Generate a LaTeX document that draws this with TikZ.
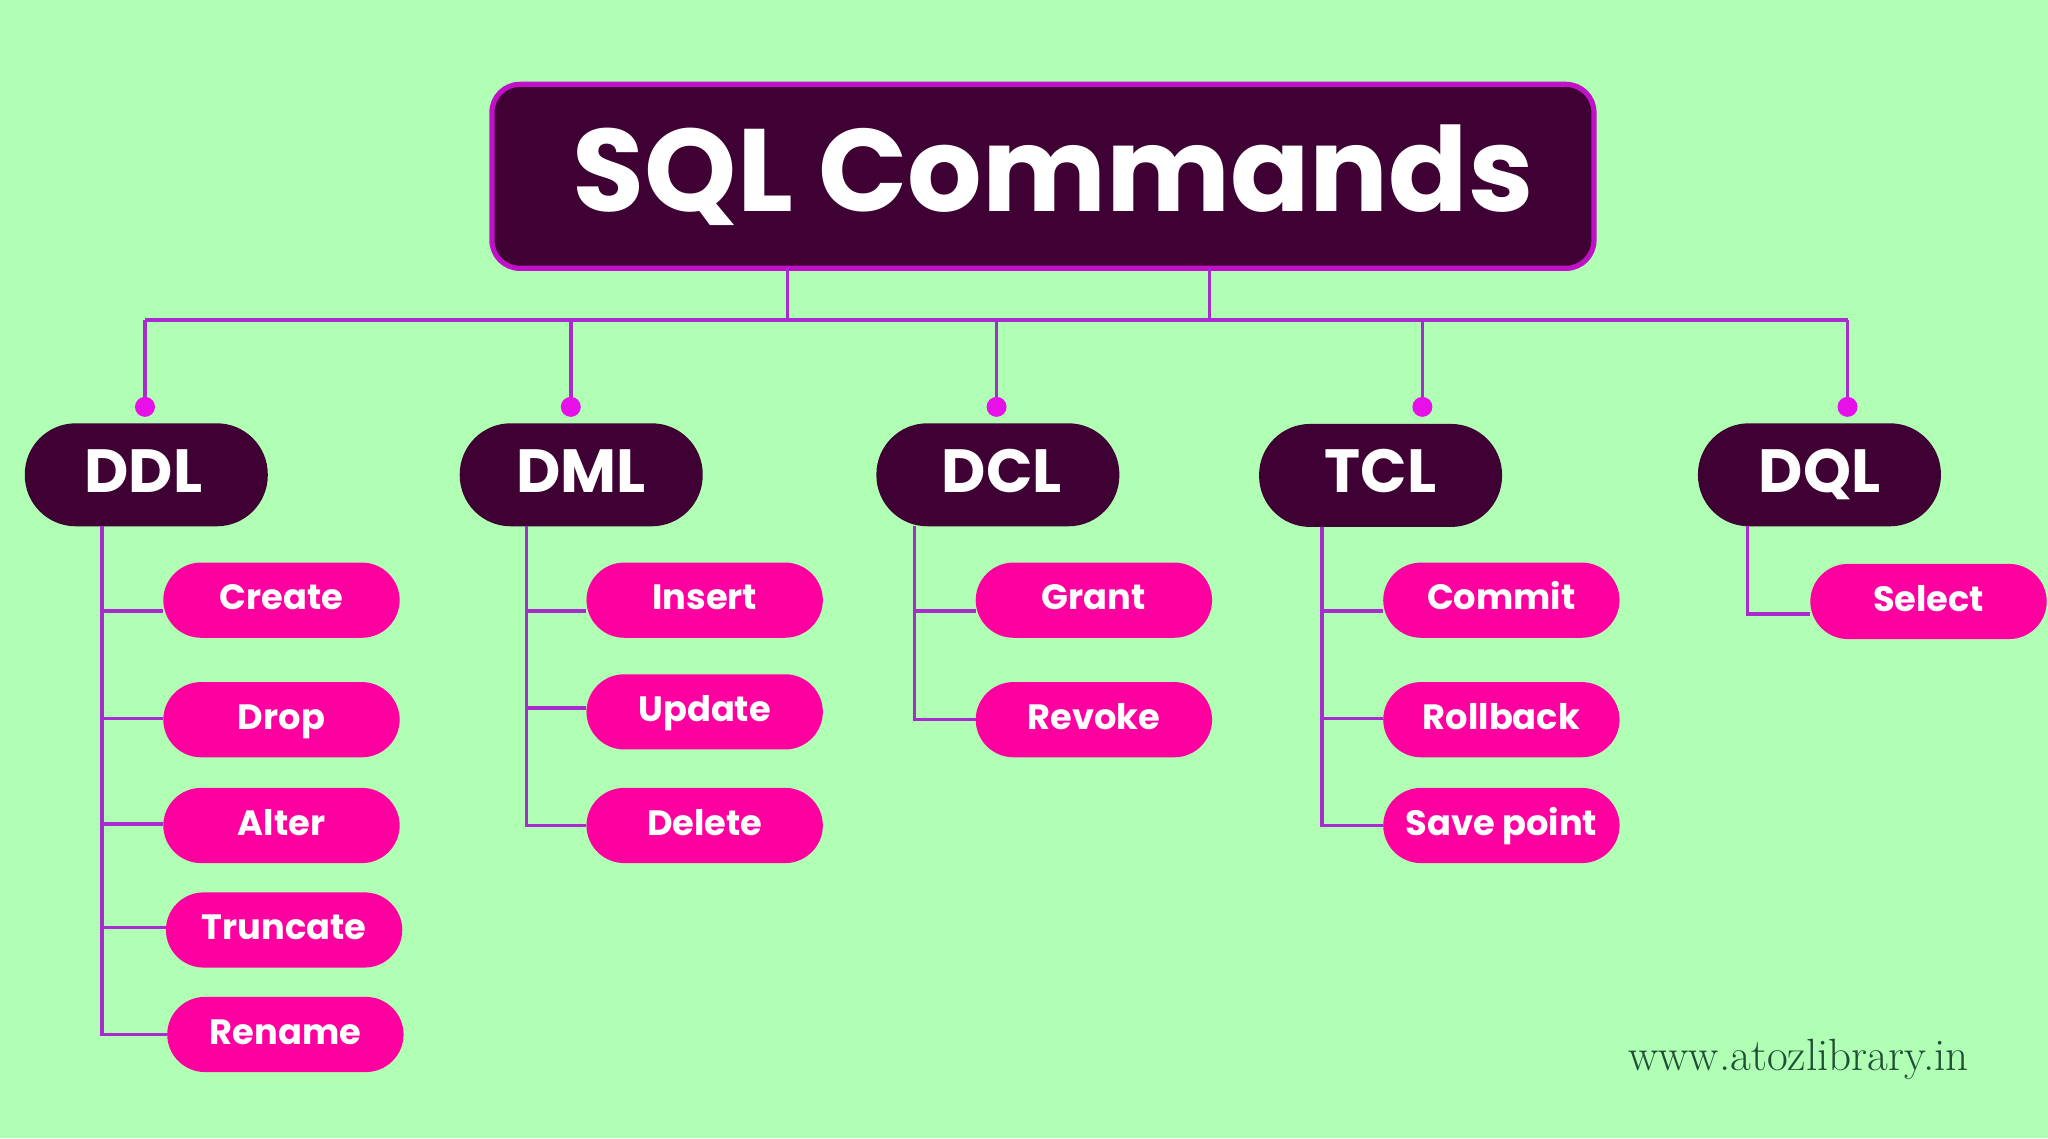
\documentclass[tikz,border=0pt]{standalone}
\usepackage{fontspec}
\setmainfont{Poppins}
\newfontfamily\webfont{Latin Modern Roman}
\definecolor{bgc}{HTML}{B0FFB4}
\definecolor{darkc}{HTML}{3F0033}
\definecolor{pinkc}{HTML}{FF00A0}
\definecolor{linec}{HTML}{A82BD0}
\definecolor{edgec}{HTML}{C010C8}
\definecolor{dotc}{HTML}{E810E8}
\definecolor{webc}{HTML}{1F4F36}
\tikzset{
 titlebox/.style={fill=darkc,draw=edgec,line width=2.6pt,rounded corners=14pt,minimum width=551pt,minimum height=92pt,inner sep=0pt,outer sep=0pt,text=white,text height=44pt,text depth=9pt,font=\fontsize{58.6}{58.6}\selectfont\bfseries},
 catbox/.style={fill=darkc,rounded corners=25.5pt,minimum width=121.5pt,minimum height=51.5pt,inner sep=0pt,outer sep=0pt,text=white,text height=22pt,text depth=4.6pt,font=\fontsize{30.5}{30.5}\selectfont\bfseries},
 leafbox/.style={fill=pinkc,rounded corners=18.9pt,minimum width=118.2pt,minimum height=37.6pt,inner sep=0pt,outer sep=0pt,text=white,text height=13pt,text depth=3.3pt,font=\fontsize{17.6}{17.6}\selectfont\bfseries},
 conn/.style={draw=linec,line width=1.8pt},
 enddot/.style={circle,fill=dotc,minimum size=10pt,inner sep=0pt,outer sep=0pt},
}
\begin{document}
\begin{tikzpicture}[x=0.65306pt,y=-0.65306pt]
\useasboundingbox[fill=bgc] (0,0) rectangle (1568,871.3);
% nodes
\node[titlebox] (title) at (798.5,135) {\kern 10.4pt SQL Commands};
\node[catbox] (ddl) at (112,363.5) {\kern-3pt DDL};
\node[catbox] (dml) at (445,363.5) {DML};
\node[catbox] (dcl) at (764,363.5) {\kern 4pt DCL};
\node[catbox] (tcl) at (1057,364) {TCL};
\node[catbox] (dql) at (1393,363.5) {DQL};
\node[enddot] (d1) at (111,311.5) {};
\node[enddot] (d2) at (437,311.5) {};
\node[enddot] (d3) at (763,311.5) {};
\node[enddot] (d4) at (1089,311.5) {};
\node[enddot] (d5) at (1414.5,311.5) {};
\node[leafbox] (create) at (215.5,459.5) {Create};
\node[leafbox] (drop) at (215.5,551) {Drop};
\node[leafbox] (alter) at (215.5,632) {Alter};
\node[leafbox] (truncate) at (217.5,712) {Truncate};
\node[leafbox] (rename) at (218.5,792) {Rename};
\node[leafbox] (insert) at (539.5,459.5) {Insert};
\node[leafbox] (update) at (539.5,545) {Update};
\node[leafbox] (delete) at (539.5,632) {Delete};
\node[leafbox] (grant) at (837.5,459.5) {Grant};
\node[leafbox] (revoke) at (837.5,551) {Revoke};
\node[leafbox] (commit) at (1149.5,459.5) {Commit};
\node[leafbox] (rollback) at (1149.5,551) {Rollback};
\node[leafbox] (savepoint) at (1149.5,632) {Save point};
\node[leafbox] (select) at (1476.5,460.5) {Select};
\node[text=webc,font=\webfont\fontsize{22.6}{22.6}\selectfont,inner sep=0pt] (web) at (1377,811) {www.atozlibrary.in};
% junction coordinates
\coordinate (busl) at (d1 |- 0,245);
\coordinate (busr) at (d5 |- 0,245);
\coordinate (s1) at (603,245);
\coordinate (s2) at (926,245);
\coordinate (ta) at (ddl.south -| 78,0);
\coordinate (tb) at (dml.south -| 403,0);
\coordinate (tc) at (dcl.south -| 700,0);
\coordinate (td) at (tcl.south -| 1012,0);
\coordinate (te) at (dql.south -| 1338,0);
% bus
\draw[conn] (busl) -- (busr);
\draw[conn] (title.south -| s1) -- (s1);
\draw[conn] (title.south -| s2) -- (s2);
\foreach \n in {d1,d2,d3,d4,d5} \draw[conn] (\n |- busl) -- (\n);
% DDL
\draw[conn] (ta) -- (ta |- rename.west) -- (rename.west);
\draw[conn] (ta |- 0,468) -- (create.west |- 0,468);
\draw[conn] (ta |- 0,550) -- (drop.west |- 0,550);
\draw[conn] (ta |- 0,631) -- (alter.west |- 0,631);
\draw[conn] (ta |- 0,710) -- (truncate.west |- 0,710);
% DML
\draw[conn] (tb) -- (tb |- delete.west) -- (delete.west);
\draw[conn] (tb |- 0,468) -- (insert.west |- 0,468);
\draw[conn] (tb |- 0,542) -- (update.west |- 0,542);
% DCL
\draw[conn] (tc) -- (tc |- revoke.west) -- (revoke.west);
\draw[conn] (tc |- 0,468) -- (grant.west |- 0,468);
% TCL
\draw[conn] (td) -- (td |- savepoint.west) -- (savepoint.west);
\draw[conn] (td |- 0,468) -- (commit.west |- 0,468);
\draw[conn] (td |- 0,550) -- (rollback.west |- 0,550);
% DQL
\draw[conn] (te) -- (te |- 0,470) -- (select.west |- 0,470);
\end{tikzpicture}
\end{document}
